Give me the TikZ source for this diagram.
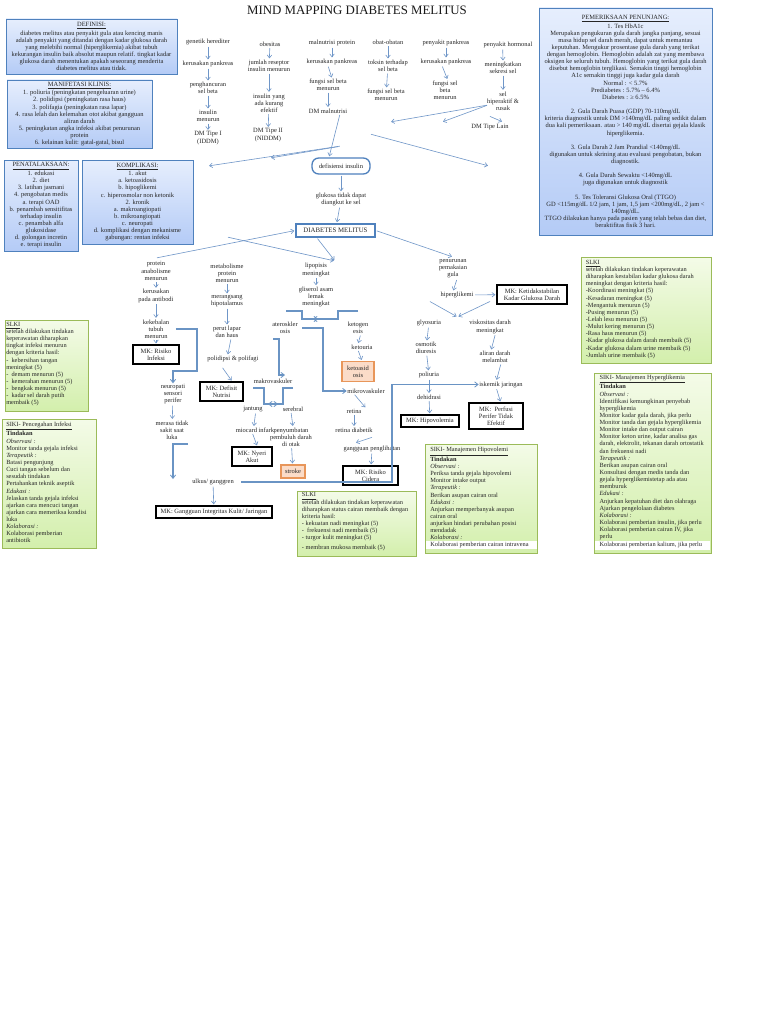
\documentclass[tikz,border=0pt]{standalone}
\usepackage{fontspec}
\setmainfont{Liberation Serif}
\usetikzlibrary{arrows.meta,shadows}
\definecolor{arrowblue}{HTML}{6F96C8}
\definecolor{thickblue}{HTML}{6A94C4}
\definecolor{boxblue}{HTML}{4F81BD}
\definecolor{bluetop}{HTML}{E6EEFD}
\definecolor{bluebot}{HTML}{B4CBF6}
\definecolor{greenline}{HTML}{9BBB59}
\definecolor{greentop}{HTML}{F4FBE8}
\definecolor{greenbot}{HTML}{D3EFAC}
\definecolor{peachline}{HTML}{E8965A}
\definecolor{peachfill}{HTML}{FBDCC8}
\tikzset{
  tiny text/.style={font=\fontsize{4.85pt}{5.35pt}\selectfont,text=black!85},
  mapt/.style={tiny text,align=center,inner sep=0pt,outer sep=0.5pt},
  arr/.style={draw=arrowblue,line width=0.45pt,-{Straight Barb[length=2.2pt,width=3.4pt,line width=0.45pt]},shorten >=0.8pt,shorten <=0.8pt},
  thk/.style={draw=thickblue,line width=0.8pt,-{Straight Barb[length=2.6pt,width=4pt,line width=0.6pt]}},
  bluebox/.style 2 args={tiny text,align=center,draw=boxblue,line width=0.7pt,top color=bluetop,bottom color=bluebot,
     minimum width=#1*0.75pt,minimum height=#2*0.75pt,inner sep=0pt,drop shadow={shadow xshift=0.3pt,shadow yshift=-0.3pt,fill=black!30}},
  greenbox/.style 2 args={draw=greenline,line width=0.6pt,top color=greentop,bottom color=greenbot,
     minimum width=#1*0.75pt,minimum height=#2*0.75pt,inner sep=0pt,drop shadow={shadow xshift=0.3pt,shadow yshift=-0.5pt,fill=black!35}},
  gtext/.style={tiny text,font=\fontsize{4.75pt}{5.35pt}\selectfont,align=left,inner sep=0pt,anchor=north west},
  mkbox/.style 2 args={tiny text,align=center,draw=black,line width=0.9pt,fill=white,minimum width=#1*0.75pt,minimum height=#2*0.75pt,inner sep=0pt},
  peachbox/.style 2 args={tiny text,align=center,draw=peachline,line width=0.8pt,fill=peachfill,minimum width=#1*0.75pt,minimum height=#2*0.75pt,inner sep=0pt},
}
\newcommand{\hd}[1]{\underline{#1}}
\begin{document}
\begin{tikzpicture}[x=0.75pt,y=-0.75pt]
\useasboundingbox (0,0) rectangle (768,1024);
\fill[white] (0,0) rectangle (768,1024);

% title
\node[inner sep=0pt,font=\fontsize{9.65pt}{10pt}\selectfont,text=black!90] (title) at (357,10) {MIND MAPPING DIABETES MELITUS};

% blue info boxes
\node[bluebox={171}{55}] (def) at (91.5,46.5) {\hd{DEFINISI:}\\diabetes melitus atau penyakit gula atau kencing manis\\adalah penyakit yang ditandai dengan kadar glukosa darah\\yang melebihi normal (hiperglikemia) akibat tubuh\\kekurangan insulin baik absolut maupun relatif. tingkat kadar\\glukosa darah menentukan apakah seseorang menderita\\diabetes melitus atau tidak.};
\node[bluebox={145}{68}] (man) at (79.5,114) {\hd{MANIFETASI KLINIS:}\\1. poliuria (peningkatan pengeluaran urine)\\2. polidipsi (peningkatan rasa haus)\\3. polifagia (peningkatan rasa lapar)\\4. rasa lelah dan kelemahan otot akibat gangguan\\aliran darah\\5. peningkatan angka infeksi akibat penurunan\\protein\\6. kelainan kulit: gatal-gatal, bisul};
\node[bluebox={74}{91}] (pen) at (41,205.5) {\hd{PENATALAKSAAN:}\\1. edukasi\\2. diet\\3. latihan jasmani\\4. pengobatan medis\\a. terapi OAD\\b. penambah sensitifitas\\terhadap insulin\\c. penambah alfa\\glukosidase\\d. golongan incretin\\e. terapi insulin};
\node[bluebox={111}{84}] (kom) at (137.5,202) {\hd{KOMPLIKASI:}\\1. akut\\a. ketoasidosis\\b. hipoglikemi\\c. hiperosmolar non ketonik\\2. kronik\\a. makroangiopati\\b. mikroangiopati\\c. neuropati\\d. komplikasi dengan mekanisme\\gabungan: rentan infeksi};
\node[bluebox={173}{227}] (pem) at (625.5,121.5) {\hd{PEMERIKSAAN PENUNJANG:}\\1. Tes HbA1c\\Merupakan pengukuran gula darah jangka panjang, sesuai\\masa hidup sel darah merah, dapat untuk memantau\\keputuhan. Mengukur prosentase gula darah yang terikat\\dengan hemoglobin. Hemoglobin adalah zat yang membawa\\oksigen ke seluruh tubuh. Hemoglobin yang terikat gula darah\\disebut hemoglobin terglikasi. Semakin tinggi hemoglobin\\A1c semakin tinggi juga kadar gula darah\\Normal : < 5.7\%\\Prediabetes : 5.7\% – 6.4\%\\Diabetes : ≥ 6.5\%\\[5.35pt]2. Gula Darah Puasa (GDP) 70-110mg/dL\\kriteria diagnostik untuk DM >140mg/dL paling sedikit dalam\\dua kali pemeriksaan. atau > 140 mg/dL disertai gejala klasik\\hiperglikemia.\\[5.35pt]3. Gula Darah 2 Jam Prandial <140mg/dL\\digunakan untuk skrining atau evaluasi pengobatan, bukan\\diagnostik.\\[5.35pt]4. Gula Darah Sewaktu <140mg/dL\\juga digunakan untuk diagnostik\\[5.35pt]5. Tes Toleransi Glukosa Oral (TTGO)\\GD <115mg/dL 1/2 jam, 1 jam, 1,5 jam <200mg/dL, 2 jam <\\140mg/dL.\\TTGO dilakukan hanya pada pasien yang telah bebas dan diet,\\beraktifitas fisik 3 hari.};

% green boxes
\node[greenbox={83}{91}] (slki1) at (46.5,365.5) {};
\node[gtext] (slki1t) at (6,322) {\hd{SLKI}\\setelah dilakukan tindakan\\keperawatan diharapkan\\tingkat infeksi menurun\\dengan kriteria hasil:\\-\ \ kebersihan tangan\\meningkat (5)\\-\ \ demam menurun (5)\\-\ \ kemerahan menurun (5)\\-\ \ bengkak menurun (5)\\-\ \ kadar sel darah putih\\membaik (5)};
\node[greenbox={94}{129}] (siki1) at (49,483.5) {};
\node[gtext] (siki1t) at (6,421.5) {\hd{SIKI- Pencegahan Infeksi}\\\textbf{Tindakan}\\\textit{Observasi :}\\Monitor tanda gejala infeksi\\\textit{Terapeutik :}\\Batasi pengunjung\\Cuci tangan sebelum dan\\sesudah tindakan\\Pertahankan teknik aseptik\\\textit{Edukasi :}\\Jelaskan tanda gejala infeksi\\ajarkan cara mencuci tangan\\ajarkan cara memeriksa kondisi\\luka\\\textit{Kolaborasi :}\\Kolaborasi pemberian\\antibiotik};
\node[greenbox={130}{106}] (slki2) at (646,310) {};
\node[gtext] (slki2t) at (585.5,260) {\hd{SLKI}\\setelah dilakukan tindakan keperawatan\\diharapkan kestabilan kadar glukosa darah\\meningkat dengan kriteria hasil:\\-Koordinasi meningkat (5)\\-Kesadaran meningkat (5)\\-Mengantuk menurun (5)\\-Pusing menurun (5)\\-Lelah lesu menurun (5)\\-Mulut kering menurun (5)\\-Rasa haus menurun (5)\\-Kadar glukosa dalam darah membaik (5)\\-Kadar glukosa dalam urine membaik (5)\\-Jumlah urine membaik (5)};
\node[greenbox={117}{180}] (siki2) at (652.5,463) {};
\node[gtext] (siki2t) at (599.3,374.5) {\hd{SIKI- Manajemen Hyperglikemia}\\\textbf{Tindakan}\\\textit{Observasi :}\\Identifikasi kemungkinan penyebab\\hyperglikemia\\Monitor kadar gula darah, jika perlu\\Monitor tanda dan gejala hyperglikemia\\Monitor intake dan output cairan\\Monitor keton urine, kadar analisa gas\\darah, elektrolit, tekanan darah ortostatik\\dan frekuensi nadi\\\textit{Terapeutik :}\\Berikan asupan cairan oral\\Konsultasi dengan medis tanda dan\\gejala hyperglikemistetap ada atau\\memburuk\\\textit{Edukasi :}\\Anjurkan kepatuhan diet dan olahraga\\Ajarkan pengelolaan diabetes\\\textit{Kolaborasi :}\\Kolaborasi pemberian insulin, jika perlu\\Kolaborasi pemberian cairan IV, jika\\perlu};
\fill[white] (595,540.5) rectangle (710,549.5);
\node[gtext,anchor=west] (siki2b) at (599.3,545) {Kolaborasi pemberian kalium, jika perlu};
\node[greenbox={119}{65}] (slki3) at (356.5,523.5) {};
\node[gtext] (slki3t) at (301.7,492.5) {\hd{SLKI}\\setelah dilakukan tindakan keperawatan\\diharapkan status cairan membaik dengan\\kriteria hasil:\\- kekuatan nadi meningkat (5)\\-\ \ frekuensi nadi membaik (5)\\- turgor kulit meningkat (5)\\[2pt]- membran mukosa membaik (5)};
\node[greenbox={112}{109}] (siki3) at (481,498.5) {};
\node[gtext] (siki3t) at (430,447) {\hd{SIKI- Manajemen Hipovolemi}\\\textbf{Tindakan}\\\textit{Observasi :}\\Periksa tanda gejala hipovolemi\\Monitor intake output\\\textit{Terapeutik :}\\Berikan asupan cairan oral\\\textit{Edukasi :}\\Anjurkan memperbanyak asupan\\cairan oral\\anjurkan hindari perubahan posisi\\mendadak\\\textit{Kolaborasi :}};
\fill[white] (425.5,541) rectangle (536.5,549);
\node[gtext,anchor=west] (siki3b) at (430,545) {Kolaborasi pemberian cairan intravena};

% column 1
\node[mapt] (a1) at (208,42) {genetik herediter};
\node[mapt] (a2) at (208,64) {kerusakan pankreas};
\node[mapt] (a3) at (208,88) {penghancuran\\sel beta};
\node[mapt] (a4) at (208,116) {insulin\\menurun};
\node[mapt] (a5) at (208,138) {DM Tipe I\\(IDDM)};
% column 2
\node[mapt] (b1) at (270,44) {obesitas};
\node[mapt] (b2) at (269,66) {jumlah reseptor\\insulin menurun};
\node[mapt] (b3) at (269,103) {insulin yang\\ada kurang\\efektif};
\node[mapt] (b4) at (268,135) {DM Tipe II\\(NIDDM)};
% column 3
\node[mapt] (c1) at (332,43) {malnutrisi protein};
\node[mapt] (c2) at (332,62) {kerusakan pankreas};
\node[mapt] (c3) at (328,85) {fungsi sel beta\\menurun};
\node[mapt] (c4) at (328,111) {DM malnutrisi};
% column 4
\node[mapt] (d1) at (388,42) {obat-obatan};
\node[mapt] (d2) at (388,66) {toksin terhadap\\sel beta};
\node[mapt] (d3) at (386,95) {fungsi sel beta\\menurun};
% column 5
\node[mapt] (e1) at (446,43) {penyakit pankreas};
\node[mapt] (e2) at (446,62) {kerusakan pankreas};
\node[mapt] (e3) at (445,90) {fungsi sel\\beta\\menurun};
% column 6
\node[mapt] (f1) at (508,45) {penyakit hormonal};
\node[mapt] (f2) at (503,68) {meningkatkan\\sekresi sel};
\node[mapt] (f3) at (503,101) {sel\\hiperaktif \&\\rusak};
\node[mapt] (f4) at (490,127) {DM Tipe Lain};

% centre
\node[tiny text,draw=boxblue,line width=1pt,rounded corners=5pt,fill=white,minimum width=58*0.75pt,minimum height=16*0.75pt,inner sep=0pt] (defi) at (341,166) {defisiensi insulin};
\node[mapt] (gluk) at (341,199.5) {glukosa tidak dapat\\diangkut ke sel};
\node[draw=boxblue,line width=1.1pt,fill=white,minimum width=79*0.75pt,minimum height=13*0.75pt,inner sep=0pt,text=black!85,font=\fontsize{5.1pt}{5.5pt}\selectfont] (dm) at (335.5,230.5) {DIABETES MELITUS};

% branch protein anabolisme
\node[mapt] (p1) at (156,271) {protein\\anabolisme\\menurun};
\node[mapt] (p2) at (156,296) {kerusakan\\pada antibodi};
\node[mapt] (p3) at (156,329) {kekebalan\\tubuh\\menurun};
\node[mkbox={46}{19}] (mkinf) at (156,354.5) {MK: Risiko\\Infeksi};
\node[mapt] (p4) at (173,394) {neuropati\\sensori\\perifer};
\node[mapt] (p5) at (172,430) {merasa tidak\\sakit saat\\luka};
\node[mapt] (ulk) at (213,482) {ulkus/ ganggren};
\node[mkbox={116}{12}] (mkint) at (214,512) {MK: Gangguan Integritas Kulit/ Jaringan};

% branch metabolisme
\node[mapt] (m1) at (227,273) {metabolisme\\protein\\menurun};
\node[mapt] (m2) at (227,301) {merangsang\\hipotalamus};
\node[mapt] (m3) at (227,332) {perut lapar\\dan haus};
\node[mapt] (m4) at (233,359) {polidipsi \& polifagi};
\node[mkbox={43}{19}] (mknut) at (221.5,391.5) {MK: Defisit\\Nutrisi};

% branch lipopisis
\node[mapt] (l1) at (316,270) {lipopisis\\meningkat};
\node[mapt] (l2) at (316,297) {gliserol asam\\lemak\\meningkat};
\coordinate (brma) at (318,319);
\coordinate (brmb) at (313,319);
\node[mapt] (ate) at (285,328) {ateroskler\\osis};
\coordinate (makin) at (285,375);
\node[mapt] (mak) at (273,381) {makrovaskuler};
\coordinate (brna) at (278,404);
\coordinate (brnb) at (268,404);
\node[mapt] (jan) at (253,409) {jantung};
\node[mapt] (ser) at (293,409) {serebral};
\node[mapt] (mio) at (255,430) {miocard infark};
\node[mapt] (pem2) at (291,437) {penyumbatan\\pembuluh darah\\di otak};
\node[mkbox={40}{19}] (mknye) at (252,456.5) {MK: Nyeri\\Akut};
\node[peachbox={24}{13}] (str) at (293,471.5) {stroke};

% ketogenesis / mikrovaskuler
\node[mapt] (k1) at (358,328) {ketogen\\esis};
\node[mapt] (k2) at (362,347) {ketouria};
\node[peachbox={32}{20}] (k3) at (358,371.5) {ketoasid\\osis};
\node[mapt] (mik) at (366,391) {mikrovaskuler};
\node[mapt] (ret) at (354,411) {retina};
\node[mapt] (rdb) at (354,430) {retina diabetik};
\node[mapt] (gpl) at (372,449) {gangguan penglihatan};
\node[mkbox={55}{19}] (mkcid) at (370.5,475.5) {MK: Risiko\\Cidera};

% branch penurunan
\node[mapt] (u1) at (453,269) {penurunan\\pemakaian\\gula};
\node[mapt] (u2) at (457,295) {hiperglikemi};
\node[mkbox={70}{19}] (mkket) at (532,294.5) {MK: Ketidakstabilan\\Kadar Glukosa Darah};
\coordinate (join) at (457.5,317);
\node[mapt] (gly) at (429,323) {glyosuria};
\node[mapt] (osm) at (426,348) {osmotik\\diuresis};
\node[mapt] (pol) at (429,375) {poliuria};
\node[mapt] (deh) at (429,397) {dehidrasi};
\node[mkbox={58}{12}] (mkhip) at (430,421) {MK: Hipovolemia};
\node[mapt] (vis) at (490,327) {viskositas darah\\meningkat};
\node[mapt] (ali) at (495,357) {aliran darah\\melambat};
\node[mapt] (isk) at (501,384.5) {iskemik jaringan};
\node[mkbox={54}{26}] (mkper) at (496,416) {MK:\ \ Perfusi\\Perifer Tidak\\Efektif};

% free ends
\coordinate (s1) at (341,146);
\coordinate (t1) at (208,166);
\coordinate (s1b) at (339,146.5);
\coordinate (t1b) at (270,158);
\coordinate (s2) at (370,134);
\coordinate (t2) at (489,166);
\coordinate (s3) at (488,105);
\coordinate (t3) at (390,122);
\coordinate (t4) at (442,122);
\coordinate (s5) at (489,116);
\coordinate (t5) at (503,122);
\coordinate (s6) at (156,258);
\coordinate (s7) at (227,237);
\coordinate (t7) at (335,261);
\coordinate (t8) at (453,257);
\coordinate (v1) at (373,437);
\coordinate (v2) at (355,443);
\coordinate (w1) at (429,301);
\coordinate (w2) at (491,301);
\coordinate (y1) at (222,367);

% simple arrows
\draw[arr] (a1) -- (a2);
\draw[arr] (a2) -- (a3);
\draw[arr] (a3) -- (a4);
\draw[arr] (a4) -- (a5);
\draw[arr] (b1) -- (b2);
\draw[arr] (b2) -- (b3);
\draw[arr] (b3) -- (b4);
\draw[arr] (c1) -- (c2);
\draw[arr] ([xshift=-3pt]c2.south) -- ([xshift=3pt]c3.north);
\draw[arr] (c3) -- (c4);
\draw[arr] (d1) -- (d2);
\draw[arr] (d2) -- (d3);
\draw[arr] (e1) -- (e2);
\draw[arr] ([xshift=-3pt]e2.south) -- ([xshift=2pt]e3.north);
\draw[arr] ([xshift=-4pt]f1.south) -- (f2.north);
\draw[arr] (f2) -- (f3);
\draw[arr] (s5) -- (t5);
\draw[arr] (s3) -- (t3);
\draw[arr] (s3) -- (t4);
\draw[arr] (s1) -- (t1);
\draw[arr] (s1b) -- (t1b);
\draw[arr] (s2) -- (t2);
\draw[arr] ([xshift=9pt]c4.south) -- ([xshift=-9pt]defi.north);
\draw[arr] (defi) -- (gluk);
\draw[arr] (gluk) -- (dm);
\draw[arr] (s6) -- (dm.west);
\draw[arr] (s7) -- (t7);
\draw[arr] ([xshift=-14pt]dm.south) -- (t7);
\draw[arr] (dm.east) -- (t8);
\draw[arr] (p1) -- (p2);
\draw[arr] (p2) -- (p3);
\draw[arr] (p3) -- (mkinf);
\draw[arr] (p4) -- (p5);
\draw[arr] (m1) -- (m2);
\draw[arr] (m2) -- (m3);
\draw[arr] ([xshift=3pt]m3.south) -- ([xshift=-4pt]m4.north);
\draw[arr] (y1) -- ([xshift=8pt]mknut.north);
\draw[arr] (l1) -- (l2);
\draw[arr] ([xshift=2pt]jan.south) -- ([xshift=-1pt]mio.north);
\draw[arr] ([xshift=-1.5pt]ser.south) -- ([xshift=1.5pt]pem2.north);
\draw[arr] ([xshift=-2pt]mio.south) -- ([xshift=4pt]mknye.north);
\draw[arr] (pem2) -- (str);
\draw[arr] ([xshift=2pt]k1.south) -- ([xshift=-3pt]k2.north);
\draw[arr] ([xshift=-3pt]k2.south) -- ([xshift=3pt]k3.north);
\draw[arr] ([xshift=-9pt]mik.south) -- ([xshift=9pt]ret.north);
\draw[arr] (ret) -- (rdb);
\draw[arr] (v1) -- (v2);
\draw[arr] (gpl) -- (mkcid);
\draw[arr] ([xshift=3pt]u1.south) -- ([xshift=-3pt]u2.north);
\draw[arr] (u2) -- (mkket);
\draw[arr] (w1) -- (join);
\draw[arr] (w2) -- (join);
\draw[arr] (gly) -- (osm);
\draw[arr] (osm) -- (pol);
\draw[arr] (pol) -- (deh);
\draw[arr] (deh) -- (mkhip);
\draw[arr] ([xshift=4pt]vis.south) -- ([xshift=-3pt]ali.north);
\draw[arr] ([xshift=4.5pt]ali.south) -- ([xshift=-3.5pt]isk.north);
\draw[arr] ([xshift=-3.5pt]isk.south) -- ([xshift=3.5pt]mkper.north);
\draw[arr] (ulk) -- (mkint);

% thick elbow connectors
\draw[thk] ([xshift=4.5pt]p3.east) -- (197,329) -- (197,371) -- (173,371) -- (p4.north);
\draw[thk] (188,444) -- (173,444) -- (173,479);
\draw[thk] ([xshift=5pt]ulk.east) -- (392,482) -- (392,384.5) -- (isk.west);
\draw[thk] ([xshift=3pt]ate.east) -- (323,328) -- (323,391) -- (mik.west);
\draw[thk] (273,339) -- (279,339) -- (279,375) -- (makin);
\draw[thk] (286,311) -- (302,311) -- (302,319) -- (brma);
\draw[thk] (358,311) -- (338,311) -- (338,319) -- (brmb);
\draw[thk] (253,388) -- (264,388) -- (264,404) -- (brna);
\draw[thk] (293,388) -- (283,388) -- (283,404) -- (brnb);
\end{tikzpicture}
\end{document}
